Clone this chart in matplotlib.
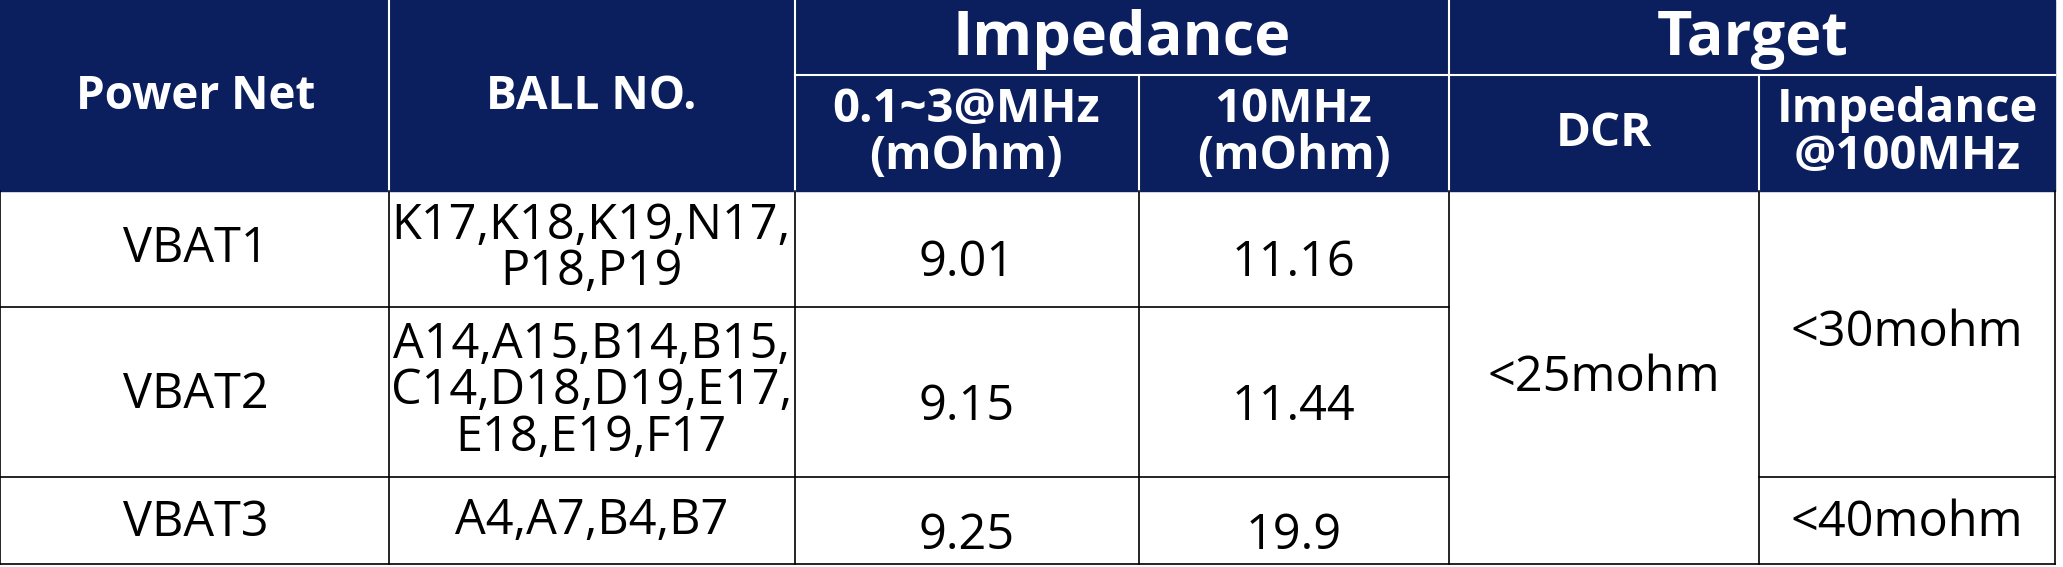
import matplotlib
matplotlib.use('Agg')
import matplotlib.pyplot as plt
from matplotlib.patches import Rectangle

plt.rcParams['font.family'] = ['Open Sans', 'DejaVu Sans']

# 表格数据
nets = ['VBAT1', 'VBAT2', 'VBAT3']
balls = ['K17,K18,K19,N17,\nP18,P19',
         'A14,A15,B14,B15,\nC14,D18,D19,E17,\nE18,E19,F17',
         'A4,A7,B4,B7']
imp_low = ['9.01', '9.15', '9.25']
imp_10m = ['11.16', '11.44', '19.9']
dcr_target = '<25mohm'
imp_target = ['<30mohm', '<40mohm']

W, H = 1563, 430
xs = [0, 295, 602, 863, 1098, 1333, 1557]
y_head_mid, y_head = 57, 145
ys = [145, 233, 362, 428]
navy = '#0b1f5e'

fig = plt.figure(figsize=(20.63, 5.67), dpi=100)
ax = fig.add_axes([0, 0, 1, 1])
ax.set_xlim(0, W)
ax.set_ylim(H, 0)
ax.axis('off')

ax.add_patch(Rectangle((0, 0), xs[-1], y_head, color=navy))
# 表头白线
for x in xs[1:-1]:
    top = y_head_mid if x in (863, 1333) else 0
    ax.plot([x, x], [top, y_head], color='white', lw=1.5)
ax.plot([xs[2], xs[-1]], [y_head_mid, y_head_mid], color='white', lw=1.5)

hkw = dict(color='white', fontweight='bold', ha='center', va='center')
ax.text(148, 73, 'Power Net', fontsize=33, **hkw)
ax.text(448, 73, 'BALL NO.', fontsize=33, **hkw)
ax.text(850, 30, 'Impedance', fontsize=44, **hkw)
ax.text(1328, 30, 'Target', fontsize=44, **hkw)
ax.text(732, 101, '0.1~3@MHz\n(mOhm)', fontsize=34, linespacing=1.0, **hkw)
ax.text(980, 101, '10MHz\n(mOhm)', fontsize=34, linespacing=1.0, **hkw)
ax.text(1215, 101, 'DCR', fontsize=34, **hkw)
ax.text(1445, 101, 'Impedance\n@100MHz', fontsize=34, linespacing=1.0, **hkw)

# 表体网格
lc, lw = 'black', 1.2
ax.plot([0, 0], [y_head, ys[-1]], color=lc, lw=lw)
ax.plot([xs[-1], xs[-1]], [y_head, ys[-1]], color=lc, lw=lw)
ax.plot([0, xs[-1]], [ys[-1], ys[-1]], color=lc, lw=lw)
for x in xs[1:-1]:
    ax.plot([x, x], [y_head, ys[-1]], color=lc, lw=lw)
for y in ys[1:3]:
    ax.plot([0, xs[4]], [y, y], color=lc, lw=lw)
ax.plot([xs[5], xs[6]], [362, 362], color=lc, lw=lw)

bkw = dict(color='black', ha='center', va='center', fontsize=35)
offs = [(189, 200), (300, 309), (397, 407)]
ball_y = [189, 297, 395]
for i in range(3):
    ax.text(148, offs[i][0], nets[i], **bkw)
    ax.text(448, ball_y[i], balls[i], linespacing=0.92, **bkw)
    ax.text(732, offs[i][1], imp_low[i], **bkw)
    ax.text(980, offs[i][1], imp_10m[i], **bkw)
ax.text(1215, 287, dcr_target, **bkw)
ax.text(1445, 253, imp_target[0], **bkw)
ax.text(1445, 397, imp_target[1], **bkw)

fig.savefig('out.png', dpi=100, facecolor='white')
